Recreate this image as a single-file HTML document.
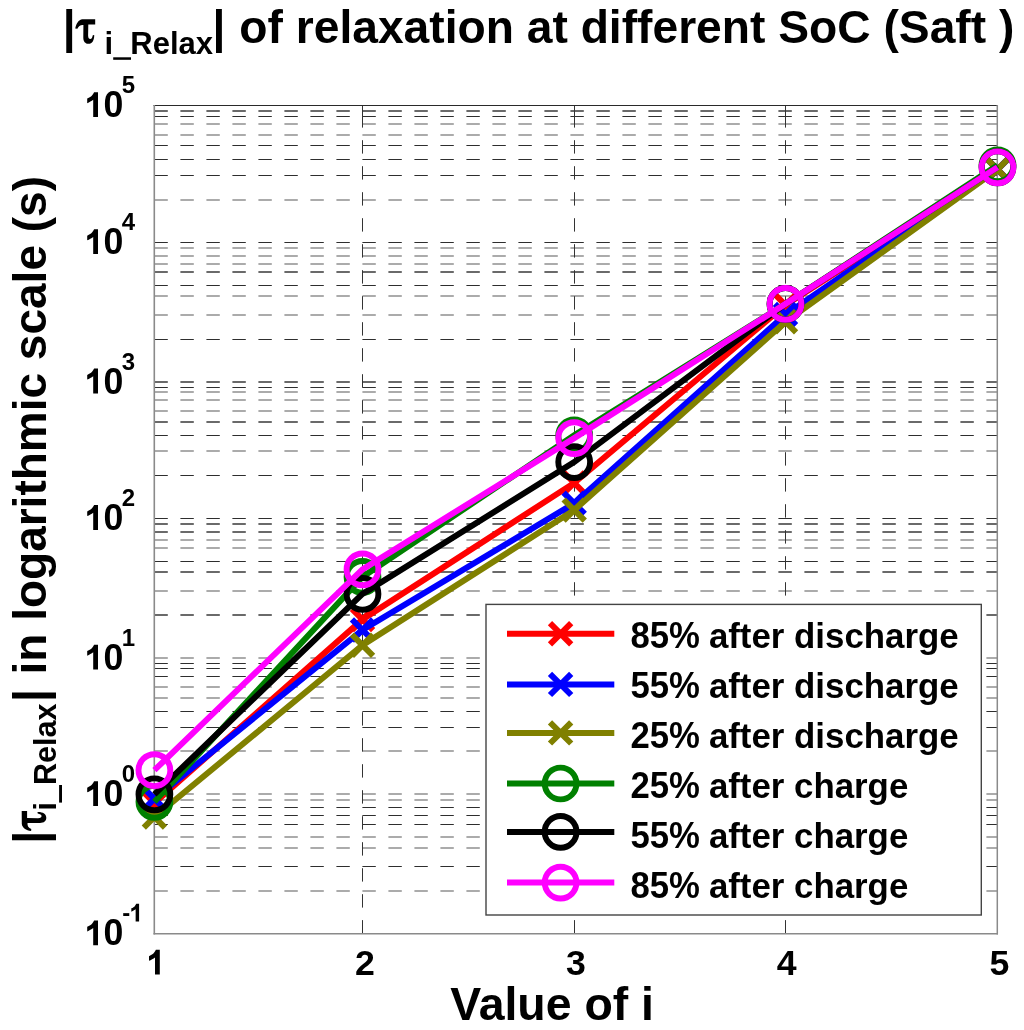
<!DOCTYPE html><html><head><meta charset="utf-8"><style>
html,body{margin:0;padding:0;background:#fff;}
svg{display:block;will-change:transform;}
text{font-family:"Liberation Sans",sans-serif;font-weight:bold;fill:#000;}
</style></head><body>
<svg width="1024" height="1030" viewBox="0 0 1024 1030">
<rect x="0" y="0" width="1024" height="1030" fill="#fff"/>
<g stroke="#909090" stroke-width="1.4" stroke-dasharray="13.4 12.6" fill="none"><line x1="154.4" y1="124" x2="997.5" y2="124"/><line x1="154.4" y1="135" x2="997.5" y2="135"/><line x1="154.4" y1="200" x2="997.5" y2="200"/><line x1="154.4" y1="248" x2="997.5" y2="248"/><line x1="154.4" y1="256" x2="997.5" y2="256"/><line x1="154.4" y1="264" x2="997.5" y2="264"/><line x1="154.4" y1="296" x2="997.5" y2="296"/><line x1="154.4" y1="315" x2="997.5" y2="315"/><line x1="154.4" y1="392" x2="997.5" y2="392"/><line x1="154.4" y1="400" x2="997.5" y2="400"/><line x1="154.4" y1="411" x2="997.5" y2="411"/><line x1="154.4" y1="451" x2="997.5" y2="451"/><line x1="154.4" y1="540" x2="997.5" y2="540"/><line x1="154.4" y1="548" x2="997.5" y2="548"/><line x1="154.4" y1="591" x2="997.5" y2="591"/><line x1="154.4" y1="658" x2="997.5" y2="658"/><line x1="154.4" y1="687" x2="997.5" y2="687"/><line x1="154.4" y1="698" x2="997.5" y2="698"/><line x1="154.4" y1="751" x2="997.5" y2="751"/><line x1="154.4" y1="794" x2="997.5" y2="794"/><line x1="154.4" y1="800" x2="997.5" y2="800"/><line x1="154.4" y1="837" x2="997.5" y2="837"/><line x1="154.4" y1="848" x2="997.5" y2="848"/><line x1="154.4" y1="891" x2="997.5" y2="891"/></g>
<g stroke="#6a6a6a" stroke-width="2.0" stroke-dasharray="13.4 12.6" fill="none"><line x1="154.4" y1="111" x2="997.5" y2="111"/><line x1="154.4" y1="272" x2="997.5" y2="272"/><line x1="154.4" y1="382" x2="997.5" y2="382"/><line x1="154.4" y1="422" x2="997.5" y2="422"/><line x1="154.4" y1="524" x2="997.5" y2="524"/><line x1="154.4" y1="532" x2="997.5" y2="532"/><line x1="154.4" y1="572" x2="997.5" y2="572"/><line x1="154.4" y1="615" x2="997.5" y2="615"/></g>
<g stroke="#2e2e2e" stroke-width="1.0" stroke-dasharray="13.4 12.6" fill="none"><line x1="154.4" y1="116.5" x2="997.5" y2="116.5"/><line x1="154.4" y1="145.5" x2="997.5" y2="145.5"/><line x1="154.4" y1="159.5" x2="997.5" y2="159.5"/><line x1="154.4" y1="175.5" x2="997.5" y2="175.5"/><line x1="154.4" y1="242.5" x2="997.5" y2="242.5"/><line x1="154.4" y1="285.5" x2="997.5" y2="285.5"/><line x1="154.4" y1="339.5" x2="997.5" y2="339.5"/><line x1="154.4" y1="387.5" x2="997.5" y2="387.5"/><line x1="154.4" y1="435.5" x2="997.5" y2="435.5"/><line x1="154.4" y1="475.5" x2="997.5" y2="475.5"/><line x1="154.4" y1="518.5" x2="997.5" y2="518.5"/><line x1="154.4" y1="561.5" x2="997.5" y2="561.5"/><line x1="154.4" y1="663.5" x2="997.5" y2="663.5"/><line x1="154.4" y1="668.5" x2="997.5" y2="668.5"/><line x1="154.4" y1="676.5" x2="997.5" y2="676.5"/><line x1="154.4" y1="711.5" x2="997.5" y2="711.5"/><line x1="154.4" y1="727.5" x2="997.5" y2="727.5"/><line x1="154.4" y1="807.5" x2="997.5" y2="807.5"/><line x1="154.4" y1="815.5" x2="997.5" y2="815.5"/><line x1="154.4" y1="824.5" x2="997.5" y2="824.5"/><line x1="154.4" y1="866.5" x2="997.5" y2="866.5"/></g>
<g stroke="#333" stroke-width="1" stroke-dasharray="13.4 12.6" fill="none"><line x1="362.5" y1="933.6" x2="362.5" y2="105.4"/><line x1="574.5" y1="933.6" x2="574.5" y2="105.4"/><line x1="785.5" y1="933.6" x2="785.5" y2="105.4"/></g>
<g stroke="#333" stroke-width="1" fill="none"><line x1="362.5" y1="933.6" x2="362.5" y2="920.6"/><line x1="362.5" y1="105.4" x2="362.5" y2="118.4"/><line x1="574.5" y1="933.6" x2="574.5" y2="920.6"/><line x1="574.5" y1="105.4" x2="574.5" y2="118.4"/><line x1="785.5" y1="933.6" x2="785.5" y2="920.6"/><line x1="785.5" y1="105.4" x2="785.5" y2="118.4"/></g>
<line x1="153.5" y1="105.5" x2="998" y2="105.5" stroke="#2a2a2a" stroke-width="1"/>
<line x1="154.3" y1="105" x2="154.3" y2="934.4" stroke="#8a8a8a" stroke-width="1.6"/>
<line x1="153.5" y1="933.7" x2="998" y2="933.7" stroke="#8a8a8a" stroke-width="1.5"/>
<line x1="997.3" y1="105" x2="997.3" y2="934.4" stroke="#8a8a8a" stroke-width="1.5"/>
<polyline points="154.40,803.00 362.50,619.50 574.20,482.90 785.50,305.00 997.50,169.50" stroke="#ff0000" stroke-width="6.0" fill="none" stroke-linejoin="miter"/>
<path d="M143.80 792.40L165.00 813.60M143.80 813.60L165.00 792.40" stroke="#ff0000" stroke-width="6.0" fill="none"/>
<path d="M351.90 608.90L373.10 630.10M351.90 630.10L373.10 608.90" stroke="#ff0000" stroke-width="6.0" fill="none"/>
<path d="M563.60 472.30L584.80 493.50M563.60 493.50L584.80 472.30" stroke="#ff0000" stroke-width="6.0" fill="none"/>
<path d="M774.90 294.40L796.10 315.60M774.90 315.60L796.10 294.40" stroke="#ff0000" stroke-width="6.0" fill="none"/>
<path d="M986.90 158.90L1008.10 180.10M986.90 180.10L1008.10 158.90" stroke="#ff0000" stroke-width="6.0" fill="none"/>
<polyline points="154.40,798.70 362.50,630.00 574.20,503.30 785.50,314.50 997.50,169.50" stroke="#0000ff" stroke-width="6.0" fill="none" stroke-linejoin="miter"/>
<path d="M143.80 788.10L165.00 809.30M143.80 809.30L165.00 788.10" stroke="#0000ff" stroke-width="6.0" fill="none"/>
<path d="M351.90 619.40L373.10 640.60M351.90 640.60L373.10 619.40" stroke="#0000ff" stroke-width="6.0" fill="none"/>
<path d="M563.60 492.70L584.80 513.90M563.60 513.90L584.80 492.70" stroke="#0000ff" stroke-width="6.0" fill="none"/>
<path d="M774.90 303.90L796.10 325.10M774.90 325.10L796.10 303.90" stroke="#0000ff" stroke-width="6.0" fill="none"/>
<path d="M986.90 158.90L1008.10 180.10M986.90 180.10L1008.10 158.90" stroke="#0000ff" stroke-width="6.0" fill="none"/>
<polyline points="154.40,817.00 362.50,645.30 574.20,510.10 785.50,321.80 997.50,169.50" stroke="#808000" stroke-width="6.0" fill="none" stroke-linejoin="miter"/>
<path d="M143.80 806.40L165.00 827.60M143.80 827.60L165.00 806.40" stroke="#808000" stroke-width="6.0" fill="none"/>
<path d="M351.90 634.70L373.10 655.90M351.90 655.90L373.10 634.70" stroke="#808000" stroke-width="6.0" fill="none"/>
<path d="M563.60 499.50L584.80 520.70M563.60 520.70L584.80 499.50" stroke="#808000" stroke-width="6.0" fill="none"/>
<path d="M774.90 311.20L796.10 332.40M774.90 332.40L796.10 311.20" stroke="#808000" stroke-width="6.0" fill="none"/>
<path d="M986.90 158.90L1008.10 180.10M986.90 180.10L1008.10 158.90" stroke="#808000" stroke-width="6.0" fill="none"/>
<polyline points="154.40,801.80 362.50,576.90 574.20,435.30 785.50,303.90 997.50,165.30" stroke="#008000" stroke-width="6.0" fill="none" stroke-linejoin="miter"/>
<circle cx="154.40" cy="801.80" r="15.9" stroke="#008000" stroke-width="5.9" fill="none"/>
<circle cx="362.50" cy="576.90" r="15.9" stroke="#008000" stroke-width="5.9" fill="none"/>
<circle cx="574.20" cy="435.30" r="15.9" stroke="#008000" stroke-width="5.9" fill="none"/>
<circle cx="785.50" cy="303.90" r="15.9" stroke="#008000" stroke-width="5.9" fill="none"/>
<circle cx="997.50" cy="165.30" r="15.9" stroke="#008000" stroke-width="5.9" fill="none"/>
<polyline points="154.40,794.30 362.50,593.90 574.20,462.10 785.50,303.90 997.50,167.30" stroke="#000000" stroke-width="6.0" fill="none" stroke-linejoin="miter"/>
<circle cx="154.40" cy="794.30" r="15.9" stroke="#000000" stroke-width="5.9" fill="none"/>
<circle cx="362.50" cy="593.90" r="15.9" stroke="#000000" stroke-width="5.9" fill="none"/>
<circle cx="574.20" cy="462.10" r="15.9" stroke="#000000" stroke-width="5.9" fill="none"/>
<circle cx="785.50" cy="303.90" r="15.9" stroke="#000000" stroke-width="5.9" fill="none"/>
<circle cx="997.50" cy="167.30" r="15.9" stroke="#000000" stroke-width="5.9" fill="none"/>
<polyline points="154.40,770.20 362.50,569.40 574.20,438.10 785.50,303.90 997.50,167.30" stroke="#ff00ff" stroke-width="6.0" fill="none" stroke-linejoin="miter"/>
<circle cx="154.40" cy="770.20" r="15.9" stroke="#ff00ff" stroke-width="5.9" fill="none"/>
<circle cx="362.50" cy="569.40" r="15.9" stroke="#ff00ff" stroke-width="5.9" fill="none"/>
<circle cx="574.20" cy="438.10" r="15.9" stroke="#ff00ff" stroke-width="5.9" fill="none"/>
<circle cx="785.50" cy="303.90" r="15.9" stroke="#ff00ff" stroke-width="5.9" fill="none"/>
<circle cx="997.50" cy="167.30" r="15.9" stroke="#ff00ff" stroke-width="5.9" fill="none"/>
<rect x="486.0" y="604.4" width="495.29999999999995" height="310.6" fill="#fff" stroke="#444" stroke-width="1.4"/>
<line x1="507" y1="633.7" x2="614.3" y2="633.7" stroke="#ff0000" stroke-width="6.0"/>
<path d="M550.00 623.10L571.20 644.30M550.00 644.30L571.20 623.10" stroke="#ff0000" stroke-width="6.0" fill="none"/>
<text transform="translate(630.5 648.4) scale(1 1.04)" font-size="34.7">85%</text>
<text x="708.9" y="648.4" font-size="34.85">after discharge</text>
<line x1="507" y1="684.4" x2="614.3" y2="684.4" stroke="#0000ff" stroke-width="6.0"/>
<path d="M550.00 673.80L571.20 695.00M550.00 695.00L571.20 673.80" stroke="#0000ff" stroke-width="6.0" fill="none"/>
<text transform="translate(630.5 698.0) scale(1 1.04)" font-size="34.7">55%</text>
<text x="708.9" y="698.0" font-size="34.85">after discharge</text>
<line x1="507" y1="732.9" x2="614.3" y2="732.9" stroke="#808000" stroke-width="6.0"/>
<path d="M550.00 722.30L571.20 743.50M550.00 743.50L571.20 722.30" stroke="#808000" stroke-width="6.0" fill="none"/>
<text transform="translate(630.5 747.8) scale(1 1.04)" font-size="34.7">25%</text>
<text x="708.9" y="747.8" font-size="34.85">after discharge</text>
<line x1="507" y1="783.5" x2="614.3" y2="783.5" stroke="#008000" stroke-width="6.0"/>
<circle cx="560.60" cy="783.50" r="15.9" stroke="#008000" stroke-width="5.9" fill="none"/>
<text transform="translate(630.5 798.2) scale(1 1.04)" font-size="34.7">25%</text>
<text x="708.9" y="798.2" font-size="34.85">after charge</text>
<line x1="507" y1="831.9" x2="614.3" y2="831.9" stroke="#000000" stroke-width="6.0"/>
<circle cx="560.60" cy="831.90" r="15.9" stroke="#000000" stroke-width="5.9" fill="none"/>
<text transform="translate(630.5 848.4) scale(1 1.04)" font-size="34.7">55%</text>
<text x="708.9" y="848.4" font-size="34.85">after charge</text>
<line x1="507" y1="882.6" x2="614.3" y2="882.6" stroke="#ff00ff" stroke-width="6.0"/>
<circle cx="560.60" cy="882.60" r="15.9" stroke="#ff00ff" stroke-width="5.9" fill="none"/>
<text transform="translate(630.5 898.2) scale(1 1.04)" font-size="34.7">85%</text>
<text x="708.9" y="898.2" font-size="34.85">after charge</text>
<path d="M-3.9 -24.8L0 -24.8L0 0L-4.8 0L-4.8 -17.2C-6.5 -16.0 -8.7 -14.6 -10.8 -13.8L-10.8 -18.4C-8.5 -19.4 -6.8 -20.6 -5.8 -21.8C-5.0 -22.8 -4.4 -23.8 -3.9 -24.8Z" transform="translate(98.00 945.20) scale(1.0)" fill="#000"/>
<text transform="translate(103.57 945.40) scale(1 1.01)" font-size="35.7">0</text>
<text x="122.14" y="921.40" font-size="24">-</text>
<path d="M-3.9 -24.8L0 -24.8L0 0L-4.8 0L-4.8 -17.2C-6.5 -16.0 -8.7 -14.6 -10.8 -13.8L-10.8 -18.4C-8.5 -19.4 -6.8 -20.6 -5.8 -21.8C-5.0 -22.8 -4.4 -23.8 -3.9 -24.8Z" transform="translate(139.10 921.60) scale(0.72)" fill="#000"/>
<path d="M-3.9 -24.8L0 -24.8L0 0L-4.8 0L-4.8 -17.2C-6.5 -16.0 -8.7 -14.6 -10.8 -13.8L-10.8 -18.4C-8.5 -19.4 -6.8 -20.6 -5.8 -21.8C-5.0 -22.8 -4.4 -23.8 -3.9 -24.8Z" transform="translate(98.00 806.10) scale(1.0)" fill="#000"/>
<text transform="translate(103.57 806.30) scale(1 1.01)" font-size="35.7">0</text>
<text x="121.84" y="782.30" font-size="24">0</text>
<path d="M-3.9 -24.8L0 -24.8L0 0L-4.8 0L-4.8 -17.2C-6.5 -16.0 -8.7 -14.6 -10.8 -13.8L-10.8 -18.4C-8.5 -19.4 -6.8 -20.6 -5.8 -21.8C-5.0 -22.8 -4.4 -23.8 -3.9 -24.8Z" transform="translate(98.00 669.50) scale(1.0)" fill="#000"/>
<text transform="translate(103.57 669.70) scale(1 1.01)" font-size="35.7">0</text>
<text x="121.84" y="645.70" font-size="24">1</text>
<path d="M-3.9 -24.8L0 -24.8L0 0L-4.8 0L-4.8 -17.2C-6.5 -16.0 -8.7 -14.6 -10.8 -13.8L-10.8 -18.4C-8.5 -19.4 -6.8 -20.6 -5.8 -21.8C-5.0 -22.8 -4.4 -23.8 -3.9 -24.8Z" transform="translate(98.00 529.90) scale(1.0)" fill="#000"/>
<text transform="translate(103.57 530.10) scale(1 1.01)" font-size="35.7">0</text>
<text x="121.84" y="506.10" font-size="24">2</text>
<path d="M-3.9 -24.8L0 -24.8L0 0L-4.8 0L-4.8 -17.2C-6.5 -16.0 -8.7 -14.6 -10.8 -13.8L-10.8 -18.4C-8.5 -19.4 -6.8 -20.6 -5.8 -21.8C-5.0 -22.8 -4.4 -23.8 -3.9 -24.8Z" transform="translate(98.00 393.40) scale(1.0)" fill="#000"/>
<text transform="translate(103.57 393.60) scale(1 1.01)" font-size="35.7">0</text>
<text x="121.84" y="369.60" font-size="24">3</text>
<path d="M-3.9 -24.8L0 -24.8L0 0L-4.8 0L-4.8 -17.2C-6.5 -16.0 -8.7 -14.6 -10.8 -13.8L-10.8 -18.4C-8.5 -19.4 -6.8 -20.6 -5.8 -21.8C-5.0 -22.8 -4.4 -23.8 -3.9 -24.8Z" transform="translate(98.00 254.10) scale(1.0)" fill="#000"/>
<text transform="translate(103.57 254.30) scale(1 1.01)" font-size="35.7">0</text>
<text x="121.84" y="230.30" font-size="24">4</text>
<path d="M-3.9 -24.8L0 -24.8L0 0L-4.8 0L-4.8 -17.2C-6.5 -16.0 -8.7 -14.6 -10.8 -13.8L-10.8 -18.4C-8.5 -19.4 -6.8 -20.6 -5.8 -21.8C-5.0 -22.8 -4.4 -23.8 -3.9 -24.8Z" transform="translate(98.00 117.00) scale(1.0)" fill="#000"/>
<text transform="translate(103.57 117.20) scale(1 1.01)" font-size="35.7">0</text>
<text x="121.84" y="93.20" font-size="24">5</text>
<path d="M-3.9 -24.8L0 -24.8L0 0L-4.8 0L-4.8 -17.2C-6.5 -16.0 -8.7 -14.6 -10.8 -13.8L-10.8 -18.4C-8.5 -19.4 -6.8 -20.6 -5.8 -21.8C-5.0 -22.8 -4.4 -23.8 -3.9 -24.8Z" transform="translate(159.80 974.60) scale(1.0)" fill="#000"/>
<text x="365.00" y="974.6" font-size="35.7" text-anchor="middle">2</text>
<text x="575.90" y="974.6" font-size="35.7" text-anchor="middle">3</text>
<text x="786.80" y="974.6" font-size="35.7" text-anchor="middle">4</text>
<text x="999.35" y="974.6" font-size="35.7" text-anchor="middle">5</text>
<text x="450.3" y="1020.1" font-size="46.4">Value of i</text>
<text x="62.8" y="43" font-size="46">|</text>
<path d="M82.4 19.3L95.2 19.2L95.2 24.6L88.3 24.6L88.1 35.5C88.2 38.2 89.0 39.0 90.3 39.0C91.7 39.0 92.3 37.5 92.8 35.2L94.2 35.0C94.4 40.3 92.2 43.8 88.5 43.8C85.2 43.8 83.3 41.5 83.3 37.5L83.4 25.0C80.5 24.7 78.5 26.0 77.4 28.8L75.2 28.6C76.3 23.5 78.5 19.8 82.4 19.3Z" fill="#000"/>
<text x="104.5" y="54" font-size="31">i</text>
<text x="130.35" y="54" font-size="31">Relax</text>
<rect x="113.2" y="57.3" width="17.8" height="2.5" fill="#000"/>
<text x="212.5" y="43" font-size="46">|</text>
<text x="239.3" y="43" font-size="46.2">of relaxation at different SoC (Saft )</text>
<text transform="translate(46 843.8) rotate(-90)" font-size="46">|</text>
<path d="M82.4 19.3L95.2 19.2L95.2 24.6L88.3 24.6L88.1 35.5C88.2 38.2 89.0 39.0 90.3 39.0C91.7 39.0 92.3 37.5 92.8 35.2L94.2 35.0C94.4 40.3 92.2 43.8 88.5 43.8C85.2 43.8 83.3 41.5 83.3 37.5L83.4 25.0C80.5 24.7 78.5 26.0 77.4 28.8L75.2 28.6C76.3 23.5 78.5 19.8 82.4 19.3Z" fill="#000" transform="matrix(0 -1 1 0 2.5 906.3)"/>
<text transform="translate(56.4 810.4) rotate(-90)" font-size="30.5">i</text>
<text transform="translate(56.4 784.963) rotate(-90)" font-size="30.5">Relax</text>
<rect x="59.1" y="785.0" width="2.9" height="17.6" fill="#000"/>
<text transform="translate(46 702) rotate(-90)" font-size="46">|</text>
<text transform="translate(46 674.5) rotate(-90)" font-size="46">in logarithmic scale (s)</text>
</svg></body></html>
